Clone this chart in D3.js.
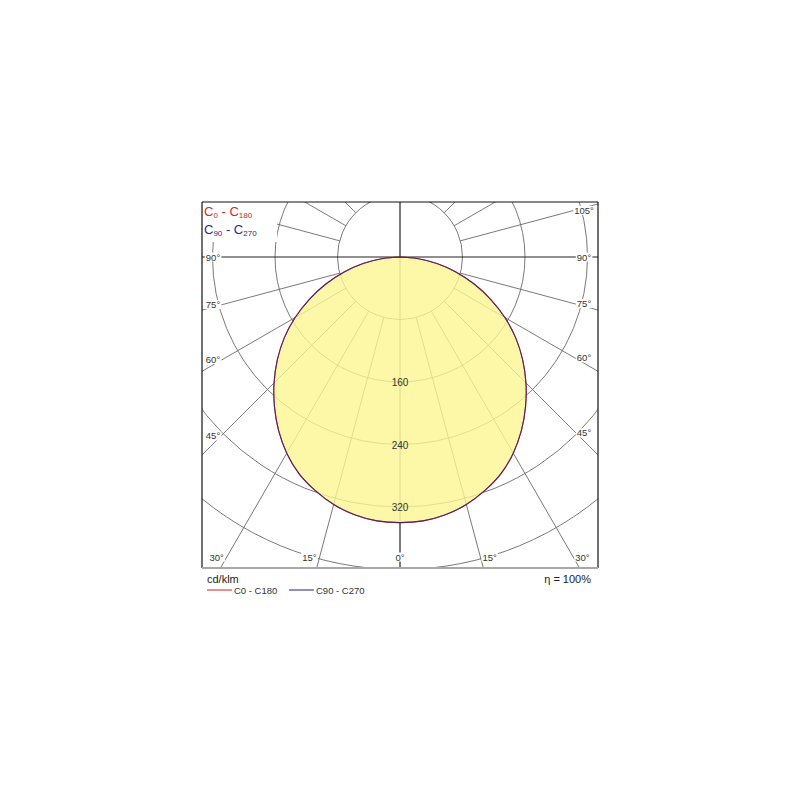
<!DOCTYPE html>
<html>
<head>
<meta charset="utf-8">
<script src="https://cdn.jsdelivr.net/npm/d3@7"></script>
<style>
  body { margin: 0; background: #fff; }
  text { font-family: "Liberation Sans", Arial, sans-serif; }
</style>
</head>
<body>
<script>
// luminous intensity (cd/klm) per gamma angle, same both sides
const angles = [0, 5, 10, 15, 20, 25, 30, 35, 40, 45, 50, 55, 60, 65, 70, 75, 80, 85, 90];
const c0c180 = [340, 339, 335, 328, 318, 306, 290, 271, 250, 228, 205, 181, 155, 128, 101, 74, 48, 22, 0];
const c90c270 = [340, 339, 335, 328, 318, 306, 290, 271, 250, 228, 205, 181, 155, 128, 101, 74, 48, 22, 0];

const ringValues = [80, 160, 240, 320, 400, 480];
const ringLabels = [160, 240, 320];
const radialAngles = [15, 30, 45, 60, 75, 105, 120, 135, 150, 165];
const sideLabelAngles = [-90, -75, -60, -45, 45, 60, 75, 90, 105];
const bottomLabelAngles = [-30, -15, 0, 15, 30];

(function app() {
  const box = { x0: 202, y0: 202, x1: 598, y1: 568 };
  const cx = 400, cy = 257;

  let svg = d3.select("body").append("svg")
    .attr("width", 800)
    .attr("height", 800);

  let r = d3.scaleLinear().domain([0, 80]).range([0, 62.5]);
  const rad = d => d * Math.PI / 180;
  const px = (a, v) => cx + v * Math.sin(rad(a));
  const py = (a, v) => cy + v * Math.cos(rad(a));

  svg.append("defs").append("clipPath").attr("id", "clipBox")
    .append("rect")
    .attr("x", box.x0).attr("y", box.y0)
    .attr("width", box.x1 - box.x0).attr("height", box.y1 - box.y0);

  let grp = svg.append("g").attr("clip-path", "url(#clipBox)");

  grp.append("rect")
    .attr("x", box.x0).attr("y", box.y0)
    .attr("width", box.x1 - box.x0).attr("height", box.y1 - box.y0)
    .attr("fill", "#fff");

  // grid
  let grid = grp.append("g").attr("class", "grid");
  grid.selectAll("circle")
    .data(ringValues)
    .enter()
    .append("circle")
    .attr("cx", cx).attr("cy", cy)
    .attr("r", d => r(d))
    .attr("fill", "none")
    .attr("stroke", "#6a6a6a")
    .attr("stroke-width", 0.9);

  let allRadial = radialAngles.concat(radialAngles.map(a => -a));
  grid.selectAll("line.radial")
    .data(allRadial)
    .enter()
    .append("line")
    .attr("class", "radial")
    .attr("x1", a => px(a, r(80)))
    .attr("y1", a => py(a, r(80)))
    .attr("x2", a => px(a, 800))
    .attr("y2", a => py(a, 800))
    .attr("stroke", "#6a6a6a")
    .attr("stroke-width", 0.9);

  // 0 degree line, lower part under the fill
  grid.append("line")
    .attr("x1", cx).attr("x2", cx)
    .attr("y1", cy).attr("y2", py(0, r(c0c180[0])))
    .attr("stroke", "#6a6a6a")
    .attr("stroke-width", 1);

  // curve points, left side mirrored
  const pts = vals => angles.slice().reverse().map((a, i) => ({ a: -a, v: vals[vals.length - 1 - i] }))
    .concat(angles.slice(1).map((a, i) => ({ a: a, v: vals[i + 1] })));

  let line = d3.line()
    .x(d => px(d.a, r(d.v)))
    .y(d => py(d.a, r(d.v)))
    .curve(d3.curveCatmullRom);

  grp.append("path")
    .attr("d", line(pts(c0c180)) + "Z")
    .attr("fill", "rgb(252,246,146)")
    .attr("fill-opacity", 0.8)
    .attr("stroke", "none");

  // dark axis lines
  grp.append("line")
    .attr("x1", box.x0).attr("x2", box.x1)
    .attr("y1", cy).attr("y2", cy)
    .attr("stroke", "#222").attr("stroke-width", 1.2);
  grp.append("line")
    .attr("x1", cx).attr("x2", cx)
    .attr("y1", box.y0).attr("y2", cy)
    .attr("stroke", "#222").attr("stroke-width", 1.2);
  grp.append("line")
    .attr("x1", cx).attr("x2", cx)
    .attr("y1", py(0, r(c0c180[0]))).attr("y2", box.y1)
    .attr("stroke", "#222").attr("stroke-width", 1.2);

  grp.append("path")
    .attr("d", line(pts(c0c180)))
    .attr("fill", "none")
    .attr("stroke", "#d02020")
    .attr("stroke-width", 1.1);
  grp.append("path")
    .attr("d", line(pts(c90c270)))
    .attr("fill", "none")
    .attr("stroke", "#202080")
    .attr("stroke-opacity", 0.7)
    .attr("stroke-width", 1.1);

  // ring value labels
  grp.selectAll("text.ring")
    .data(ringLabels)
    .enter()
    .append("text")
    .attr("class", "ring")
    .attr("x", cx)
    .attr("y", d => cy + r(d) + 4)
    .attr("text-anchor", "middle")
    .attr("font-size", "10px")
    .attr("fill", "#333")
    .text(d => d);

  // angle labels with white background
  let labels = [];
  sideLabelAngles.forEach(a => {
    let x = a < 0 ? box.x0 + 11 : box.x1 - 14;
    let dx = Math.abs(x - cx);
    let b = Math.abs(a);
    let y = b === 90 ? cy : cy + dx / Math.tan(rad(b)) - (90 - b) * 0.18;
    labels.push({ t: b + "°", x: x, y: y, anchor: "middle" });
  });
  bottomLabelAngles.forEach(a => {
    let y = box.y1 - 11;
    let xl = cx + (y - cy) * Math.tan(rad(a));
    let anchor = a < 0 ? "end" : a > 0 ? "start" : "middle";
    let x = a < 0 ? xl - 3 : a > 0 ? xl + 2 : cx;
    labels.push({ t: Math.abs(a) + "°", x: x, y: y, anchor: anchor });
  });

  let lbl = grp.append("g").attr("class", "angle-labels");
  let lg = lbl.selectAll("g").data(labels).enter().append("g");
  let lt = lg.append("text")
    .attr("x", d => d.x)
    .attr("y", d => d.y + 3.5)
    .attr("text-anchor", d => d.anchor)
    .attr("font-size", "9.5px")
    .attr("fill", "#333")
    .text(d => d.t);
  lt.each(function () {
    let bb = this.getBBox();
    d3.select(this.parentNode).insert("rect", "text")
      .attr("x", bb.x - 1).attr("y", bb.y + 1)
      .attr("width", bb.width + 2).attr("height", bb.height - 2)
      .attr("fill", "#fff");
  });

  // legend block top-left
  grp.append("rect")
    .attr("x", box.x0).attr("y", box.y0)
    .attr("width", 75).attr("height", 40)
    .attr("fill", "#fff");

  const sub = (sel, parts, color, y) => {
    let t = sel.append("text")
      .attr("x", 204).attr("y", y)
      .attr("font-size", "13px")
      .attr("fill", color);
    parts.forEach(p => {
      t.append("tspan")
        .attr("font-size", p.s ? "8px" : "13px")
        .attr("dy", p.s ? 2 : (p.back ? -2 : 0))
        .text(p.t);
    });
  };
  sub(svg, [{ t: "C" }, { t: "0", s: true }, { t: " - C", back: true }, { t: "180", s: true }], "#cc2a2a", 216);
  sub(svg, [{ t: "C" }, { t: "90", s: true }, { t: " - C", back: true }, { t: "270", s: true }], "#2a2a8a", 234);

  // box frame
  let frame = svg.append("g").attr("class", "frame");
  frame.append("line").attr("x1", box.x0).attr("x2", box.x1).attr("y1", box.y0).attr("y2", box.y0)
    .attr("stroke", "#111").attr("stroke-width", 1.2);
  frame.append("line").attr("x1", box.x0).attr("x2", box.x0).attr("y1", box.y0).attr("y2", box.y1)
    .attr("stroke", "#111").attr("stroke-width", 1.2);
  frame.append("line").attr("x1", box.x1).attr("x2", box.x1).attr("y1", box.y0).attr("y2", box.y1)
    .attr("stroke", "#111").attr("stroke-width", 1.2);
  frame.append("line").attr("x1", box.x0).attr("x2", box.x1).attr("y1", box.y1).attr("y2", box.y1)
    .attr("stroke", "#a8a8a8").attr("stroke-width", 2);

  // footer
  svg.append("text").attr("x", 207).attr("y", 583)
    .attr("font-size", "11px").attr("fill", "#222").text("cd/klm");
  svg.append("text").attr("x", 591).attr("y", 583)
    .attr("text-anchor", "end")
    .attr("font-size", "11px").attr("fill", "#222").text("η = 100%");

  let legend = [
    { t: "C0 - C180", c: "#d02020", x: 207 },
    { t: "C90 - C270", c: "#202080", x: 289 }
  ];
  let le = svg.append("g").attr("class", "legend")
    .selectAll("g").data(legend).enter().append("g");
  le.append("line")
    .attr("x1", d => d.x).attr("x2", d => d.x + 25)
    .attr("y1", 590).attr("y2", 590)
    .attr("stroke", d => d.c).attr("stroke-width", 1);
  le.append("text")
    .attr("x", d => d.x + 27).attr("y", 594)
    .attr("font-size", "9.5px").attr("fill", "#333")
    .text(d => d.t);
})();
</script>
</body>
</html>
